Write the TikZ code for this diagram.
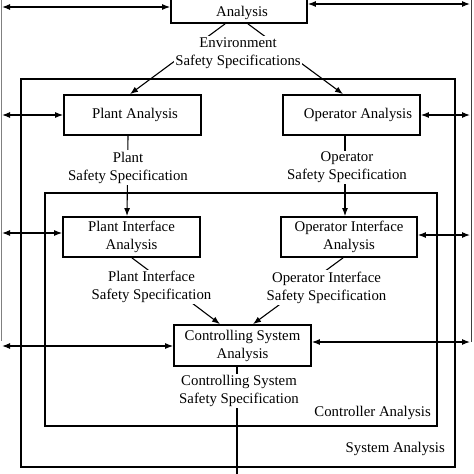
\documentclass[tikz,border=0pt]{standalone}
\usepackage{fontspec}
\setmainfont{Liberation Serif}
\usetikzlibrary{arrows.meta,calc}
\newcommand{\dfont}{\fontsize{14.8}{18}\selectfont}
\begin{document}
\begin{tikzpicture}[x=1pt,y=-1pt,
  box/.style={draw, line width=1.8pt, inner sep=0pt, align=center, font=\dfont},
  frame/.style={draw, line width=1.8pt, inner sep=0pt},
  spec/.style={fill=white, inner sep=1.5pt, align=center, font=\dfont},
  lbl/.style={inner sep=0pt, font=\dfont, anchor=east},
  conn/.style={line width=1.1pt},
  arr/.style={conn, -{Latex[length=8pt,width=6pt]}},
  darr/.style={conn, {Latex[length=8pt,width=6pt]}-{Latex[length=8pt,width=6pt]}},
]
\useasboundingbox (0,0) rectangle (474,474);
\clip (0,0) rectangle (474,474);

% frames
\node[frame, minimum width=434pt, minimum height=388pt] (sys) at (238,273) {};
\node[frame, minimum width=392pt, minimum height=233pt] (con) at (241,309.5) {};
\node[lbl] (conlbl) at (431,413) {Controller Analysis};
\node[lbl] (syslbl) at (445,449) {System Analysis};

% boxes
\node[box, minimum width=136pt, minimum height=60pt] (env) at (239,-7) {};
\node[inner sep=0pt, font=\dfont] (envt) at (242,13) {Analysis};
\node[box, minimum width=137pt, minimum height=40pt] (plant) at (132.5,115) {\hspace*{5pt}Plant Analysis};
\node[box, minimum width=137pt, minimum height=40pt] (oper) at (351.5,115) {\hspace*{13pt}Operator Analysis};
\node[box, minimum width=137pt, minimum height=40pt] (pint) at (131.5,237) {Plant Interface\\Analysis};
\node[box, minimum width=136pt, minimum height=40pt] (oint) at (349,237) {Operator Interface\\Analysis};
\node[box, minimum width=137pt, minimum height=41pt] (ctrl) at (242.5,345.5) {Controlling System\\Analysis};

% outer side lines
\coordinate (LT) at (1.5,-5);
\coordinate (LB) at (1.5,341);
\coordinate (RT) at (471.5,-5);
\coordinate (RB) at (471.5,342);
\draw[line width=1.8pt, gray] (LT) -- (LB);
\draw[line width=1.2pt, black!75] (RT) -- (RB);

\coordinate (L1) at (2,7);
\coordinate (L2) at (2,115);
\coordinate (L3) at (2,233);
\coordinate (L4) at (2,346);
\coordinate (R1) at (470,4);
\coordinate (R2) at (470,115);
\coordinate (R3) at (470,235);
\coordinate (R4) at (470,342);

\draw[darr] (L1) -- (L1 -| env.west);
\draw[darr] (L2) -- (L2 -| plant.west);
\draw[darr] (L3) -- (L3 -| pint.west);
\draw[darr] (L4) -- (L4 -| ctrl.west);
\draw[darr] (R1 -| env.east) -- (R1);
\draw[darr] (R2 -| oper.east) -- (R2);
\draw[darr] (R3 -| oint.east) -- (R3);
\draw[darr] (R4 -| ctrl.east) -- (R4);

% flow connectors
\draw[arr] ([xshift=-14pt]env.south) -- ([xshift=-2.5pt]plant.north);
\draw[arr] ([xshift=9pt]env.south) -- ([xshift=-8.5pt]oper.north);
\draw[arr] ([xshift=-4.5pt]plant.south) -- ([xshift=-4.5pt]pint.north);
\draw[arr] ([xshift=-6.5pt]oper.south) -- ([xshift=-4pt]oint.north);
\draw[arr] ([xshift=0.5pt]pint.south) -- ([xshift=-22.5pt]ctrl.north);
\draw[arr] ([xshift=-6pt]oint.south) -- ([xshift=10.5pt]ctrl.north);
\coordinate (out) at (237,480);
\draw[conn] ([xshift=-5.5pt]ctrl.south) -- (out);

% specification labels
\node[spec] (envs) at (238,53) {Environment\\Safety Specifications};
\node[spec] (plants) at (128,167.5) {Plant\\Safety Specification};
\node[spec] (opers) at (347,167.5) {Operator\\Safety Specification};
\node[spec] (pints) at (151.5,287) {Plant Interface\\Safety Specification};
\node[spec] (oints) at (326.5,287.5) {Operator Interface\\Safety Specification};
\node[spec] (ctrls) at (239,391) {Controlling System\\Safety Specification};
\end{tikzpicture}
\end{document}
